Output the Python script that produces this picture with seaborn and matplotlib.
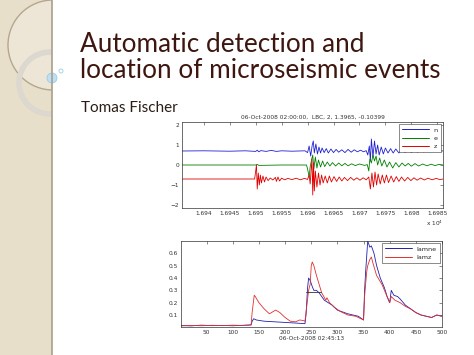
import matplotlib
matplotlib.use("Agg")
import matplotlib.pyplot as plt
import matplotlib.patches as mpatches
from matplotlib.ticker import FuncFormatter
import seaborn as sns

# top panel: three component seismogram (time in s)
n_t = [16935.8, 16940, 16945, 16948, 16950, 16950.3, 16950.6, 16951, 16952, 16953, 16954, 16955,
       16957, 16959.5, 16960, 16960.3, 16960.6, 16960.9, 16961.1, 16961.3, 16961.6, 16961.9,
       16962.2, 16962.5, 16962.8, 16963.2, 16963.6, 16964, 16964.5, 16965, 16965.5, 16966,
       16966.6, 16967.2, 16967.8, 16968.4, 16969, 16969.6, 16970.2, 16970.8, 16971.3, 16971.6,
       16971.9, 16972.1, 16972.3, 16972.6, 16972.9, 16973.2, 16973.5, 16973.8, 16974.2, 16974.6,
       16975, 16975.5, 16976, 16976.5, 16977, 16977.6, 16978.2, 16978.8, 16979.4, 16980,
       16980.6, 16981.2, 16981.8, 16982.4, 16983, 16983.6, 16984.2, 16984.8, 16985.4, 16986.1]
n_v = [0.7, 0.71, 0.69, 0.71, 0.68, 0.74, 0.66, 0.72, 0.68, 0.73, 0.68, 0.71,
       0.69, 0.71, 0.62, 0.95, 0.45, 1.0, 1.2, 0.6, 1.05, 0.55,
       0.9, 0.6, 0.85, 0.62, 0.82, 0.6, 0.8, 0.62, 0.78, 0.64,
       0.76, 0.62, 0.78, 0.64, 0.76, 0.66, 0.74, 0.66, 0.72, 0.5,
       0.95, 0.2, 1.3, 0.4, 1.2, 0.55, 1.0, 0.5, 0.9, 0.55,
       0.85, 0.6, 0.82, 0.6, 0.8, 0.6, 0.78, 0.62, 0.8, 0.62,
       0.75, 0.64, 0.74, 0.65, 0.74, 0.66, 0.72, 0.67, 0.72, 0.7]

e_t = [16935.8, 16950, 16950.3, 16950.6, 16955, 16959.8, 16960.0, 16960.3, 16960.5, 16960.8,
       16961.0, 16961.2, 16961.5, 16961.8, 16962.1, 16962.5, 16962.9, 16963.3, 16963.8, 16964.3,
       16964.8, 16965.4, 16966, 16966.6, 16967.2, 16967.8, 16968.5, 16969.2, 16970, 16971,
       16971.5, 16971.8, 16972.0, 16972.3, 16972.6, 16972.9, 16973.2, 16973.5, 16973.9, 16974.3,
       16974.8, 16975.3, 16975.8, 16976.4, 16977, 16977.6, 16978.2, 16978.8, 16979.4, 16980,
       16980.7, 16981.4, 16982.2, 16983, 16983.8, 16984.6, 16985.3, 16986.1]
e_v = [0.0, 0.0, 0.03, -0.02, 0.0, 0.0, -0.2, -0.6, -0.1, 0.3,
       0.5, -0.2, 0.4, -0.15, 0.25, -0.1, 0.2, -0.08, 0.15, -0.05,
       0.12, -0.05, 0.1, -0.04, 0.08, -0.04, 0.06, -0.03, 0.05, -0.02,
       0.02, -0.3, 0.3, 0.1, 0.5, 0.2, 0.45, 0.0, 0.35, -0.05,
       0.25, -0.1, 0.15, -0.15, 0.12, -0.1, 0.1, -0.05, 0.08, -0.06,
       0.07, -0.05, 0.05, -0.04, 0.04, -0.03, 0.03, 0.0]

z_t = [16935.8, 16945, 16949.8, 16950.0, 16950.15, 16950.3, 16950.5, 16950.7, 16950.9, 16951.1,
       16951.4, 16951.7, 16952, 16952.4, 16952.8, 16953.3, 16953.8, 16954.0, 16954.3, 16954.6,
       16955, 16955.6, 16956.2, 16957, 16957.8, 16958.6, 16959.4, 16960.0, 16960.3, 16960.5,
       16960.7, 16960.85, 16961.0, 16961.15, 16961.3, 16961.5, 16961.8, 16962.1, 16962.4, 16962.7,
       16963.0, 16963.4, 16963.8, 16964.2, 16964.6, 16965.1, 16965.6, 16966.1, 16966.6, 16967.1,
       16967.7, 16968.3, 16968.9, 16969.5, 16970.1, 16970.7, 16971.3, 16971.8, 16972.1, 16972.4,
       16972.7, 16973.0, 16973.3, 16973.6, 16974.0, 16974.4, 16974.8, 16975.2, 16975.6, 16976.1,
       16976.6, 16977.1, 16977.6, 16978.1, 16978.7, 16979.3, 16979.9, 16980.5, 16981.1, 16981.8,
       16982.5, 16983.2, 16984, 16984.8, 16985.5, 16986.1]
z_v = [-0.7, -0.7, -0.7, -0.3, 0.0, -1.2, -0.4, -1.0, -0.5, -0.9,
       -0.55, -0.85, -0.6, -0.78, -0.65, -0.75, -0.62, -0.82, -0.6, -0.8,
       -0.66, -0.74, -0.67, -0.73, -0.66, -0.74, -0.67, -0.72, -0.5, -0.95,
       -0.2, 0.3, -1.5, 0.1, -1.3, -0.3, -1.1, -0.4, -1.0, -0.5,
       -0.9, -0.55, -0.9, -0.55, -0.85, -0.58, -0.82, -0.6, -0.8, -0.62,
       -0.78, -0.62, -0.76, -0.64, -0.76, -0.64, -0.74, -0.6, -1.2, -0.4,
       -1.1, -0.35, -1.0, -0.45, -0.95, -0.5, -0.9, -0.5, -0.88, -0.55,
       -0.85, -0.58, -0.82, -0.6, -0.8, -0.62, -0.78, -0.64, -0.76, -0.65,
       -0.75, -0.66, -0.74, -0.67, -0.73, -0.7]

# bottom panel: detection functions
lamne_x = [1, 20, 40, 60, 80, 100, 120, 135, 137, 140, 145, 160, 180, 200, 220, 238,
           240, 243, 245, 248, 252, 255, 260, 265, 270, 275, 290, 300, 320, 340, 350,
           352, 354, 358, 362, 365, 370, 375, 382, 390, 395, 400, 403, 408, 415, 420,
           430, 440, 450, 460, 470, 480, 490, 500]
lamne_y = [0.015, 0.012, 0.018, 0.014, 0.016, 0.013, 0.017, 0.02, 0.05, 0.07, 0.06, 0.05, 0.045, 0.04, 0.035, 0.03,
           0.1, 0.32, 0.4, 0.38, 0.33, 0.3, 0.3, 0.28, 0.25, 0.22, 0.18, 0.14, 0.11, 0.09, 0.06,
           0.3, 0.45, 0.7, 0.65, 0.66, 0.6, 0.5, 0.4, 0.32, 0.25, 0.2, 0.3, 0.26, 0.25, 0.23,
           0.18, 0.15, 0.12, 0.1, 0.09, 0.08, 0.1, 0.09]
lamz_x = [1, 20, 40, 60, 80, 100, 120, 135, 137, 141, 143, 150, 160, 170, 178, 182, 190, 200,
          210, 220, 228, 235, 238, 240, 245, 248, 250, 252, 255, 260, 265, 270, 278, 280,
          285, 295, 305, 320, 335, 345, 350, 352, 356, 358, 362, 365, 368, 375, 385, 392,
          398, 400, 403, 410, 420, 430, 440, 450, 460, 470, 480, 490, 500]
lamz_y = [0.012, 0.016, 0.013, 0.017, 0.014, 0.018, 0.015, 0.02, 0.12, 0.26, 0.25, 0.2, 0.15, 0.11, 0.13, 0.14, 0.12, 0.08,
          0.05, 0.045, 0.06, 0.055, 0.05, 0.12, 0.3, 0.35, 0.5, 0.53, 0.5, 0.42, 0.35, 0.28, 0.22, 0.24,
          0.2, 0.16, 0.13, 0.1, 0.09, 0.07, 0.06, 0.25, 0.45, 0.5, 0.55, 0.57, 0.52, 0.42, 0.35, 0.28,
          0.22, 0.2, 0.25, 0.22, 0.2, 0.17, 0.15, 0.12, 0.1, 0.09, 0.08, 0.1, 0.09]
mark_x = [240, 268]
mark_y = [0.29, 0.29]

sns.set_style("white")
plt.rcParams["font.family"] = ["DejaVu Sans"]

fig = plt.figure(figsize=(4.74, 3.55), dpi=100)

# slide background
bg = fig.add_axes([0, 0, 1, 1], zorder=-5)
bg.set_xlim(0, 474)
bg.set_ylim(355, 0)
bg.axis("off")
strip = mpatches.Rectangle((0, 0), 52, 355, facecolor="#e8dfca", edgecolor="none")
bg.add_patch(strip)
clip = mpatches.Rectangle((0, 0), 52, 355, transform=bg.transData)
lite = mpatches.Circle((53, 45), 45, facecolor="#ede6d6", edgecolor="#b5a68e", lw=1.0)
bg.add_patch(lite)
lite.set_clip_path(clip)
ring = mpatches.Circle((50, 83), 31, facecolor="none", edgecolor="#dcd7cf", lw=4)
bg.add_patch(ring)
ring.set_clip_path(clip)
bg.plot([52, 52], [0, 355], color="#a9a08b", lw=1.2)
bg.add_patch(mpatches.Circle((52, 78), 5, facecolor="#bfe0f2", edgecolor="#9dcbe6", lw=0.6))
bg.add_patch(mpatches.Circle((61, 71), 2, facecolor="none", edgecolor="#9dcbe6", lw=0.6))

fig.text(80 / 474, 1 - 52 / 355, "Automatic detection and", fontsize=18.8,
         color="#3e1610", family="Lato", va="baseline")
fig.text(80 / 474, 1 - 78 / 355, "location of microseismic events", fontsize=18.8,
         color="#3e1610", family="Lato", va="baseline")
fig.text(81 / 474, 1 - 112 / 355, "Tomas Fischer", fontsize=11,
         color="#2b1d17", family="Lato", va="baseline")


def matlab_axes(ax):
    for s in ax.spines.values():
        s.set_linewidth(0.5)
        s.set_color("#333333")
    ax.tick_params(direction="in", length=2, width=0.4, labelsize=4.2,
                   top=True, right=True, colors="#333333", pad=2)


def matlab_legend(ax):
    leg = ax.legend(loc="upper right", fontsize=4.6, frameon=True, fancybox=False,
                    edgecolor="#333333", framealpha=1, handlelength=4.2, borderpad=0.5,
                    labelspacing=0.45, handletextpad=0.8, borderaxespad=0.3)
    leg.get_frame().set_linewidth(0.4)
    for line in leg.get_lines():
        line.set_linewidth(0.7)


ax1 = fig.add_axes([182 / 474, 1 - 208 / 355, 261 / 474, 86 / 355])
sns.lineplot(x=n_t, y=n_v, ax=ax1, color="#2020d0", lw=0.6, label="n")
sns.lineplot(x=e_t, y=e_v, ax=ax1, color="#008000", lw=0.6, label="e")
sns.lineplot(x=z_t, y=z_v, ax=ax1, color="#e00000", lw=0.6, label="z")
ax1.set_xlim(16935.8, 16986.1)
ax1.set_ylim(-2.15, 2.15)
ax1.set_xticks([16940 + 5 * i for i in range(10)])
ax1.set_yticks([-2, -1, 0, 1, 2])
ax1.xaxis.set_major_formatter(FuncFormatter(lambda v, p: f"{v / 1e4:g}"))
ax1.set_title("06-Oct-2008 02:00:00,  LBC, 2, 1.3965, -0.10399", fontsize=4.2,
              color="#333333", pad=2)
ax1.text(1.0, -0.13, r"x 10$^4$", transform=ax1.transAxes, fontsize=4.2,
         color="#333333", ha="right", va="top")
matlab_axes(ax1)
matlab_legend(ax1)

ax2 = fig.add_axes([181 / 474, 1 - 327 / 355, 261 / 474, 86 / 355])
sns.lineplot(x=lamne_x, y=lamne_y, ax=ax2, color="#2020b0", lw=0.6, label="lamne")
sns.lineplot(x=lamz_x, y=lamz_y, ax=ax2, color="#e03030", lw=0.6, label="lamz")
sns.lineplot(x=mark_x, y=mark_y, ax=ax2, color="#333333", lw=0.6)
ax2.set_xlim(1, 500)
ax2.set_ylim(0.003, 0.7)
ax2.set_xticks([50 * i for i in range(1, 11)])
ax2.set_yticks([0.1, 0.2, 0.3, 0.4, 0.5, 0.6])
ax2.set_xlabel("06-Oct-2008 02:45:13", fontsize=4.2, color="#333333", labelpad=1)
matlab_axes(ax2)
matlab_legend(ax2)

fig.savefig("out.png", dpi=100)
